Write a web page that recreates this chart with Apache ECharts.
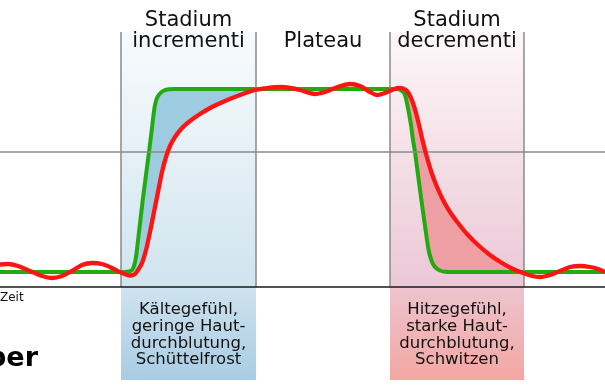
<!DOCTYPE html>
<html>
<head>
<meta charset="utf-8">
<script src="https://cdn.jsdelivr.net/npm/echarts@6/dist/echarts.min.js"></script>
<style>
html,body{margin:0;padding:0;background:#fff;}
#chart{width:605px;height:390px;}
</style>
</head>
<body>
<div id="chart"></div>
<script>
// Time axis (0..605) and height above the time axis
const greenTime = [0,125,129,132,134,136,139,143,149,152,153.5,155,157,160,164,169,175,398,402,405,408,411,413,415,420,427,429,431,433,436,440,445,452,605];
const greenValue = [15,15,15.5,17,21,30,55,89,135,159,172,182,189,193.5,196.5,197.7,198,198,196,192,179,162,147,135,97,47,35,28,23,19,16.5,15.3,15,15];

const redTime = [0,8,18,30,42,52,62,72,82,92,102,112,122,130,135,138,142,146,150,154,158,162,166,170,175,182,190,200,212,225,240,255,268,280,290,300,315,325,335,350,360,370,377,385,392,398,403,407,410,413,416,419,422,425,428,432,437,443,450,458,467,478,490,502,513,523,532,540,550,560,570,580,590,598,605];
const redValue = [22.5,23,21,16,11,9,11,16,22,24,23,19,14,11.5,13,17,24,37,55,75,95,115,130,141,150,159,166,173,180,186,192,197,199,200,199,197,193,195,199,203,201,195,192,194,197,199,198.5,196,191,184,174,162,149,137,126,113,100,87,75,64,53,42,32,24,18,14,11,10,12,16,20,21,20,18,15];

const phaseEdges = [121,256,390,524];
const phaseTitles = ['Stadium\nincrementi','Plateau','Stadium\ndecrementi'];
const phaseNotes = ['Kältegefühl,\ngeringe Haut-\ndurchblutung,\nSchüttelfrost','Hitzegefühl,\nstarke Haut-\ndurchblutung,\nSchwitzen'];
const referenceLevel = 135;
const riseRange = [132,270];
const fallRange = [400,524];
const axisLabel = 'Zeit';
const chartTitle = 'Fieber';

const TOP = 255, BOTTOM = -93;
const FONT = 'DejaVu Sans';

const chart = echarts.init(document.getElementById('chart'), null, {renderer:'canvas'});

function pairs(t, v){ return t.map((x,i)=>[x, v[i]]); }
function inRange(t, v, r){ const out=[]; t.forEach((x,i)=>{ if(x>=r[0] && x<=r[1]) out.push([x,v[i]]); }); return out; }

const blueGrad = {type:'linear',x:0,y:0,x2:0,y2:1,colorStops:[
  {offset:0,color:'#f8fbfd'},{offset:0.733,color:'#d0e4ef'},{offset:0.74,color:'#cde2ef'},{offset:1,color:'#a9cce3'}]};
const pinkGrad = {type:'linear',x:0,y:0,x2:0,y2:1,colorStops:[
  {offset:0,color:'#fdf7f8'},{offset:0.733,color:'#ebc7d5'},{offset:0.74,color:'#edc3cd'},{offset:1,color:'#f3a7a2'}]};

const vLines = phaseEdges.map(x => [{coord:[x,TOP]},{coord:[x,0]}]);

const graphics = [];
phaseTitles.forEach((t,i)=>{
  const cx = (phaseEdges[i]+phaseEdges[i+1])/2;
  const lines = t.split('\n').length;
  graphics.push({type:'text', x: cx, y: lines===2 ? 31.4 : 41.7, z:10,
    style:{text:t, font:'21px "'+FONT+'"', fill:'#111', align:'center', verticalAlign:'middle', lineHeight:21}});
});
phaseNotes.forEach((t,i)=>{
  const cx = (phaseEdges[i*2]+phaseEdges[i*2+1])/2;
  graphics.push({type:'text', x: cx, y: 335, z:10,
    style:{text:t, font:'16.5px "'+FONT+'"', fill:'#111', align:'center', verticalAlign:'middle', lineHeight:16.6}});
});
graphics.push({type:'text', x:0, y:298, z:10, style:{text:axisLabel, font:'12px "'+FONT+'"', fill:'#111', align:'left', verticalAlign:'middle'}});
graphics.push({type:'text', x:38, y:358.5, z:10, style:{text:chartTitle, font:'bold 27px "'+FONT+'"', fill:'#000', align:'right', verticalAlign:'middle'}});

chart.setOption({
  animation:false,
  backgroundColor:'#ffffff',
  grid:{left:0,right:0,top:0,bottom:0},
  xAxis:{type:'value',min:0,max:605,show:false},
  yAxis:{type:'value',min:-103,max:287,show:false},
  graphic: graphics,
  series:[
    {type:'line', data:[], z:1, silent:true,
      markArea:{silent:true, data:[
        [{coord:[phaseEdges[0],TOP],itemStyle:{color:blueGrad}},{coord:[phaseEdges[1],BOTTOM]}],
        [{coord:[phaseEdges[2],TOP],itemStyle:{color:pinkGrad}},{coord:[phaseEdges[3],BOTTOM]}]
      ]}},
    {type:'custom', z:2, silent:true, clip:false, data:[[0,0]],
      renderItem:function(params, api){
        const up1 = inRange(greenTime, greenValue, riseRange);
        const lo1 = inRange(redTime, redValue, riseRange).reverse();
        const up2 = inRange(redTime, redValue, fallRange);
        const lo2 = inRange(greenTime, greenValue, fallRange).reverse();
        return {type:'group', children:[
          {type:'polygon', shape:{points: up1.concat(lo1).map(p=>api.coord(p))}, style:{fill:'#9dcbe0'}},
          {type:'polygon', shape:{points: up2.concat(lo2).map(p=>api.coord(p))}, style:{fill:'#ee9fa3'}}
        ]};
      }},
    {type:'line', data:[], z:3, silent:true,
      markLine:{silent:true, symbol:['none','none'], label:{show:false},
        lineStyle:{color:'#8a8a8a', width:1.5, type:'solid'},
        data: vLines.concat([
          [{coord:[0,referenceLevel]},{coord:[605,referenceLevel]}],
          [{coord:[0,0],lineStyle:{color:'#1a1a1a',width:1.6}},{coord:[605,0]}]
        ])}},
    {type:'line', z:4, data:pairs(greenTime, greenValue), showSymbol:false, smooth:0.25,
      lineStyle:{color:'#22aa11', width:4}},
    {type:'line', z:5, data:pairs(redTime, redValue), showSymbol:false, smooth:0.3,
      lineStyle:{color:'#ff1414', width:4.3}}
  ]
});
</script>
</body>
</html>
